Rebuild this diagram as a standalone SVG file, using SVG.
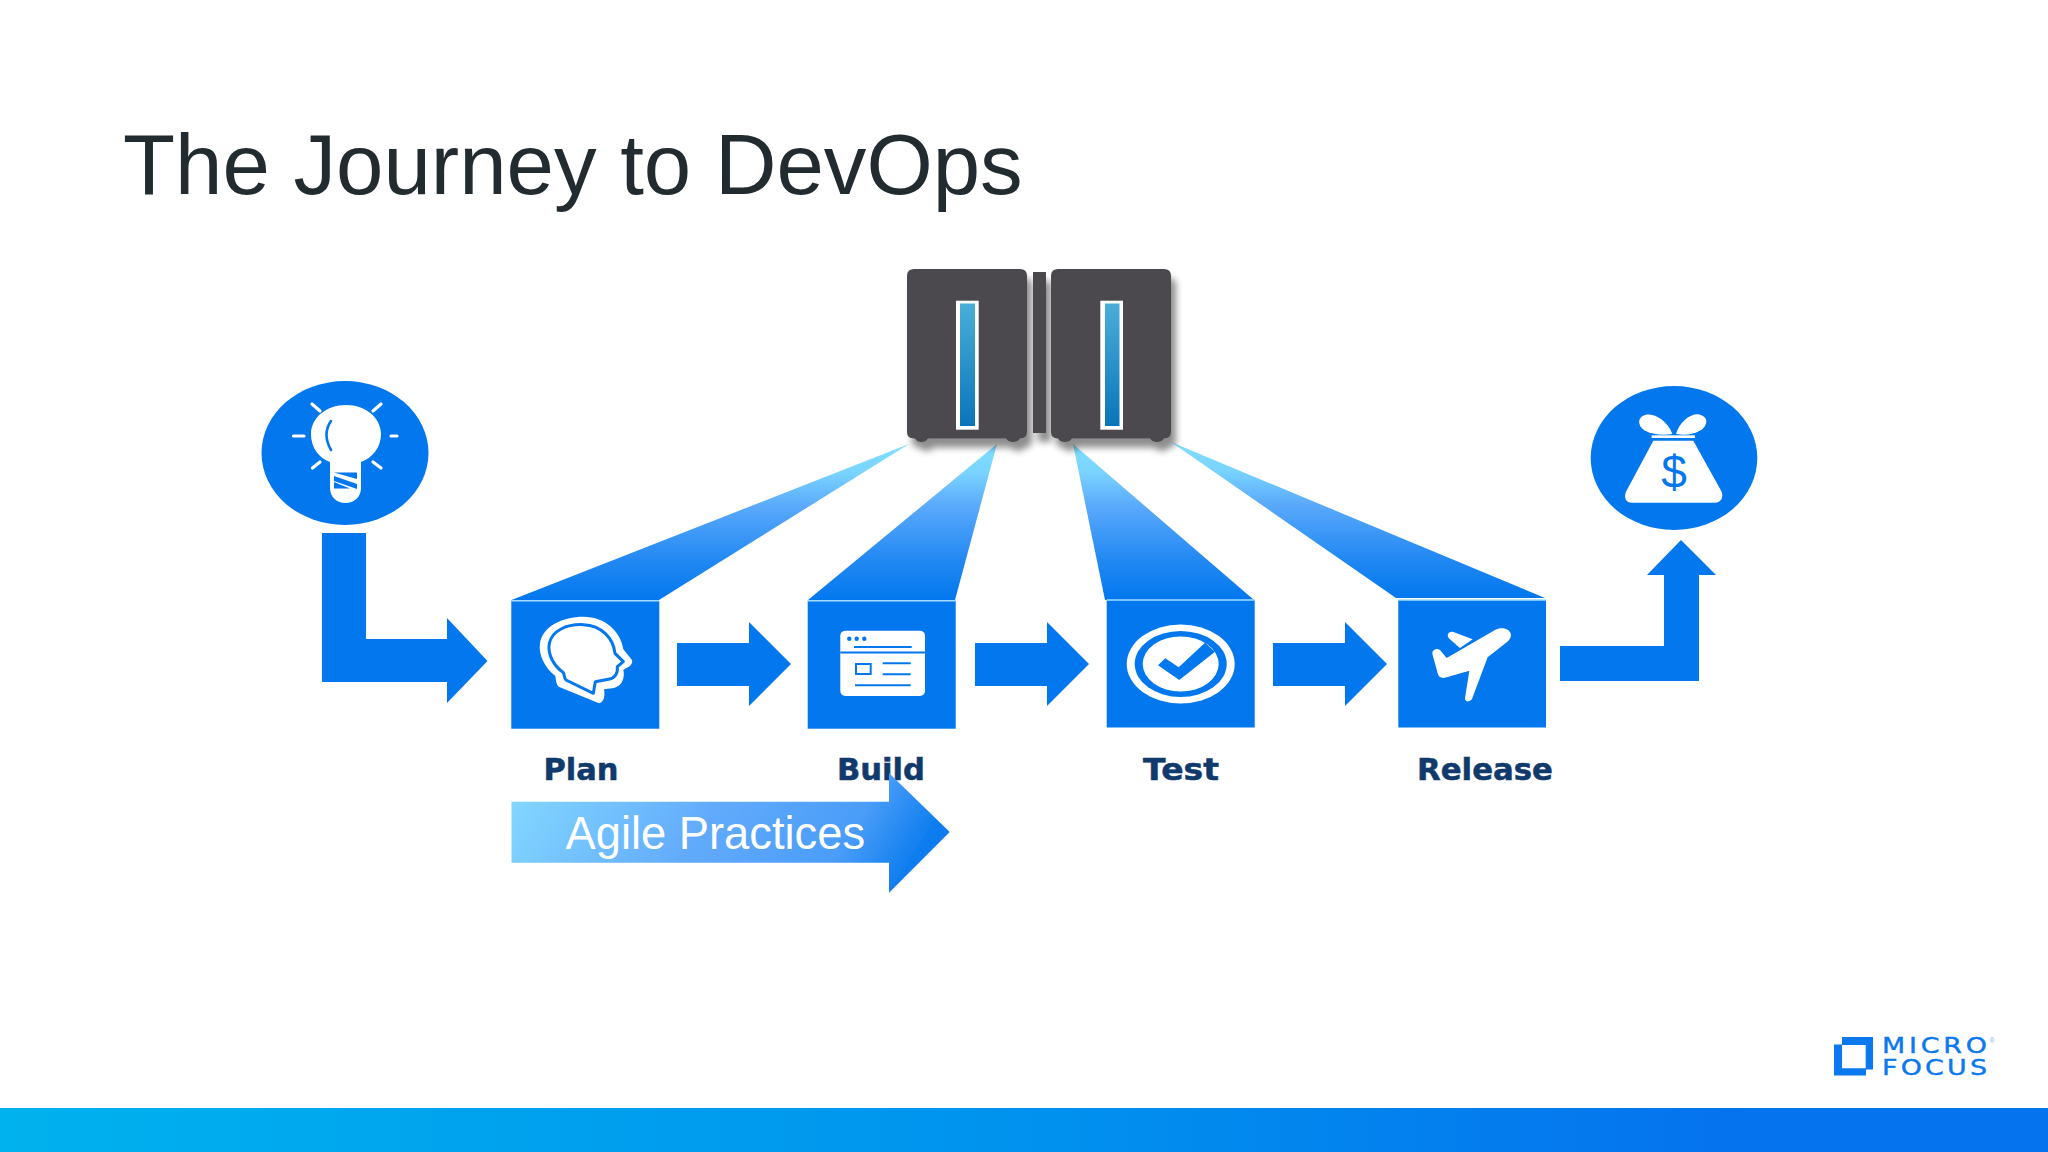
<svg xmlns="http://www.w3.org/2000/svg" width="2048" height="1152" viewBox="0 0 2048 1152">
<style>
.bl{fill:#0277ee}
.wh{fill:#fff}
.label{font-family:"DejaVu Sans",Verdana,sans-serif;font-weight:700;font-size:30px;fill:#0f3a6b;stroke:#0f3a6b;stroke-width:.5}
.ray{stroke:#fff;stroke-width:3.2;stroke-linecap:round;fill:none}
.ln{stroke:#0277ee;stroke-width:2;fill:none}
.cap{stroke:#a5ddff;stroke-width:1.6}
.body{fill:#4b494d}
.logo{font-family:"DejaVu Sans",sans-serif;font-size:21px;fill:#0a78ee;stroke:#0a78ee;stroke-width:.4}
</style>
<defs>
<linearGradient id="beam" x1="0" y1="0" x2="0" y2="1">
<stop offset="0" stop-color="#7fdfff"/><stop offset=".18" stop-color="#7ad4ff"/><stop offset=".4" stop-color="#5aa9fc"/><stop offset=".75" stop-color="#2188f2"/><stop offset="1" stop-color="#0277ee"/>
</linearGradient>
<linearGradient id="agile" gradientUnits="userSpaceOnUse" x1="511" y1="770" x2="880" y2="1000">
<stop offset="0" stop-color="#86dbff"/><stop offset=".44" stop-color="#62abfc"/><stop offset=".74" stop-color="#4a9df8"/><stop offset=".9" stop-color="#0c7cee"/><stop offset="1" stop-color="#0a78ee"/>
</linearGradient>
<linearGradient id="bar" x1="0" y1="0" x2="1" y2="0">
<stop offset="0" stop-color="#00b2ee"/><stop offset=".5" stop-color="#0092ee"/><stop offset=".85" stop-color="#0572ee"/><stop offset="1" stop-color="#0572ee"/>
</linearGradient>
<linearGradient id="screen" x1="0" y1="0" x2="0" y2="1">
<stop offset="0" stop-color="#4aaed8"/><stop offset="1" stop-color="#0a74b8"/>
</linearGradient>
<filter id="shadow" x="-20%" y="-20%" width="150%" height="150%">
<feGaussianBlur in="SourceAlpha" stdDeviation="3.500"/><feOffset dx="5" dy="9"/>
<feComponentTransfer><feFuncA type="linear" slope=".45"/></feComponentTransfer>
<feMerge><feMergeNode/><feMergeNode in="SourceGraphic"/></feMerge>
</filter>
<filter id="soft" x="-5%" y="-5%" width="110%" height="110%"><feGaussianBlur stdDeviation=".7"/></filter>
</defs>
<rect width="2048" height="1152" fill="#fff"/>
<text x="123" y="194" font-family="'Liberation Sans',Arial,sans-serif" font-size="85.2" fill="#222c30">The Journey to DevOps</text>

<g id="connectors">
<polygon fill="url(#beam)" points="909,444 511.5,600 659,600"/>
<polygon fill="url(#beam)" points="997,444 808,600 955,600"/>
<polygon fill="url(#beam)" points="1073,444 1105,600 1254,600"/>
<polygon fill="url(#beam)" points="1171,442 1396,598 1545,598"/>
<polygon class="bl" points="322,533 366,533 366,639 447,639 447,618 487.500,661 447,703 447,682 322,682"/>
<polygon class="bl" points="677,643 749,643 749,622 791,664 749,706 749,686 677,686"/>
<polygon class="bl" points="975,643 1047,643 1047,622 1089,664 1047,706 1047,686 975,686"/>
<polygon class="bl" points="1273,643 1345,643 1345,622 1387,664 1345,706 1345,686 1273,686"/>
<polygon class="bl" points="1560,646 1664,646 1664,575 1647,575 1681,540 1716,575 1699,575 1699,681 1560,681"/>
</g>

<g id="server">
<g filter="url(#shadow)">
<path class="body" d="M914 269H1020Q1027 269 1027 276V432Q1027 438.500 1020 438.500Q1018 442 1013 442Q1008 442 1006 438.500H928Q926 442 921.500 442Q917 442 915 438.500H914Q907 438.500 907 432V276Q907 269 914 269Z"/>
<rect class="body" x="1033" y="272" width="13" height="161"/>
<path class="body" d="M1058 269H1164Q1171 269 1171 276V432Q1171 438.500 1164 438.500Q1162 442 1157 442Q1152 442 1150 438.500H1072Q1070 442 1065 442Q1060 442 1058 438.500Q1051 438.500 1051 432V276Q1051 269 1058 269Z"/>
</g>
<rect class="wh" x="956" y="300.700" width="22.700" height="129"/>
<rect x="960" y="303.500" width="15" height="122.500" fill="url(#screen)"/>
<rect class="wh" x="1100.300" y="300.700" width="22.700" height="129"/>
<rect x="1105" y="303.500" width="14.500" height="122.500" fill="url(#screen)"/>
</g>

<g id="idea">
<ellipse class="bl" cx="345" cy="453" rx="83.500" ry="72"/>
<path class="wh" d="M346 405C366 405 381 418 381 434C381 448 372 458 361 462V488C361 497 354 503 345.500 503C337 503 330 497 330 488V462C319 458 311 448 311 434C311 418 326 405 346 405Z"/>
<path d="M331 421Q322 434 331 450" fill="none" stroke="#0277ee" stroke-width="2.600" stroke-linecap="round"/>
<path class="bl" d="M334 472.500H357V479ZM334 476L357 484V489L334 481ZM334 482L350 488.500H334Z"/>
<path class="ray" d="M312 404L320 411M381 404L373 411M293.500 436H304M391 436H397M312.500 468L320 462M381 468L373 462"/>
</g>

<g id="plan">
<rect class="bl" x="511.300" y="600.700" width="148" height="128"/>
<line class="cap" x1="511.300" y1="600.700" x2="659.300" y2="600.700"/>
<g transform="translate(530 610) scale(.3333)">
<path class="wh" d="M207 280L86 230C78 222 78 209 76 198C42 172 25 132 30 100C37 48 100 20 160 20C227 20 273 66 280 118L306 150C310 162 297 171 288 175L280 180C285 202 278 227 252 234L222 238C225 254 224 276 207 280Z"/>
<path d="M190 250L108 210C102 204 104 196 100 188C70 166 52 132 58 100C66 62 110 42 160 44C215 46 250 85 255 130L280 155L262 170C264 190 255 205 235 208L196 215Z" fill="#fff" stroke="#0277ee" stroke-width="9" stroke-linejoin="round"/>
</g>
<text class="label" x="543.500" y="780" textLength="75" lengthAdjust="spacingAndGlyphs">Plan</text>
</g>

<g id="build">
<rect class="bl" x="807.700" y="600.700" width="148" height="128"/>
<line class="cap" x1="807.700" y1="600.700" x2="955.700" y2="600.700"/>
<rect class="wh" x="840.300" y="630.700" width="84.700" height="65.300" rx="5"/>
<circle class="bl" cx="849.300" cy="638.700" r="2.200"/><circle class="bl" cx="856.700" cy="638.700" r="2.200"/><circle class="bl" cx="864.300" cy="638.700" r="2.200"/>
<path class="ln" d="M854 647H911.700M840.300 652.500H925M882.700 663.300H910.700M882.700 674.300H910.700M855 685.300H910.700"/>
<rect class="ln" x="856" y="664" width="14.700" height="10"/>
<text class="label" x="837" y="780" textLength="88" lengthAdjust="spacingAndGlyphs">Build</text>
</g>

<g id="test">
<rect class="bl" x="1106.700" y="600" width="148" height="127.500"/>
<line class="cap" x1="1106.700" y1="600" x2="1254.700" y2="600"/>
<ellipse class="wh" cx="1180.700" cy="664" rx="54" ry="39.500"/>
<ellipse class="bl" cx="1180.700" cy="664" rx="46" ry="33"/>
<ellipse class="wh" cx="1180.700" cy="664" rx="38" ry="27.500"/>
<polygon class="bl" points="1158,665.300 1165.300,658.300 1178.700,667.300 1205,642.700 1215,651.700 1179.300,680"/>
<text class="label" x="1143" y="780" textLength="76" lengthAdjust="spacingAndGlyphs">Test</text>
</g>

<g id="release">
<rect class="bl" x="1398.300" y="600" width="147.700" height="127.500"/>
<line class="cap" x1="1398.300" y1="600" x2="1546" y2="600"/>
<g class="wh" transform="translate(1420 620) scale(.3333)">
<path d="M272 40C264 22 240 22 225 30L80 114L60 90C50 82 33 90 38 105L53 160C56 172 65 177 80 172L148 152L135 235C135 247 148 247 156 237L203 112L264 64C272 56 274 48 272 40Z"/>
<path d="M158 58L100 36C85 33 78 46 88 56L120 84Z"/>
</g>
<text class="label" x="1417" y="780" textLength="136" lengthAdjust="spacingAndGlyphs">Release</text>
</g>

<g id="money">
<ellipse class="bl" cx="1674" cy="458" rx="83.300" ry="72"/>
<g class="wh" transform="translate(1540 370) scale(.3333)">
<path d="M397 192C382 150 340 128 315 135C292 142 292 166 313 181C335 194 370 197 397 192Z"/>
<path d="M408 192C420 153 455 128 480 134C507 142 503 166 482 181C460 194 435 197 408 192Z"/>
<rect x="335" y="196" width="130" height="8"/>
<path d="M340 212H460L545 365C552 385 540 398 525 398H275C260 398 250 385 258 365Z"/>
</g>
<text x="1674" y="488" text-anchor="middle" font-family="'Liberation Sans',Arial,sans-serif" font-size="46" fill="#0277ee">$</text>
</g>

<g id="agile-practices">
<polygon fill="url(#agile)" filter="url(#soft)" points="511.500,801.700 889,801.700 889,773 949.700,832 889,892.700 889,862.700 511.500,862.700"/>
<text x="565.500" y="849" font-family="'Liberation Sans',Arial,sans-serif" font-size="45.300" fill="#fff">Agile Practices</text>
</g>

<g id="logo">
<path fill="#0a78ee" fill-rule="evenodd" d="M1842 1037H1873V1069.500H1866V1075.500H1834V1044.500H1842ZM1842 1045V1068.300H1865.700V1045Z"/>
<g transform="translate(1882 0) scale(1.28 1)">
<text class="logo" x="0" y="1053.500" textLength="82" lengthAdjust="spacing">MICRO</text>
<text class="logo" x="0" y="1075" textLength="82" lengthAdjust="spacing">FOCUS</text>
</g>
<text x="1992" y="1043" font-family="'Liberation Sans',Arial,sans-serif" font-size="7" fill="#7fb5ee" text-anchor="middle">®</text>
</g>

<rect id="footer-bar" x="0" y="1108" width="2048" height="44" fill="url(#bar)"/>
</svg>
